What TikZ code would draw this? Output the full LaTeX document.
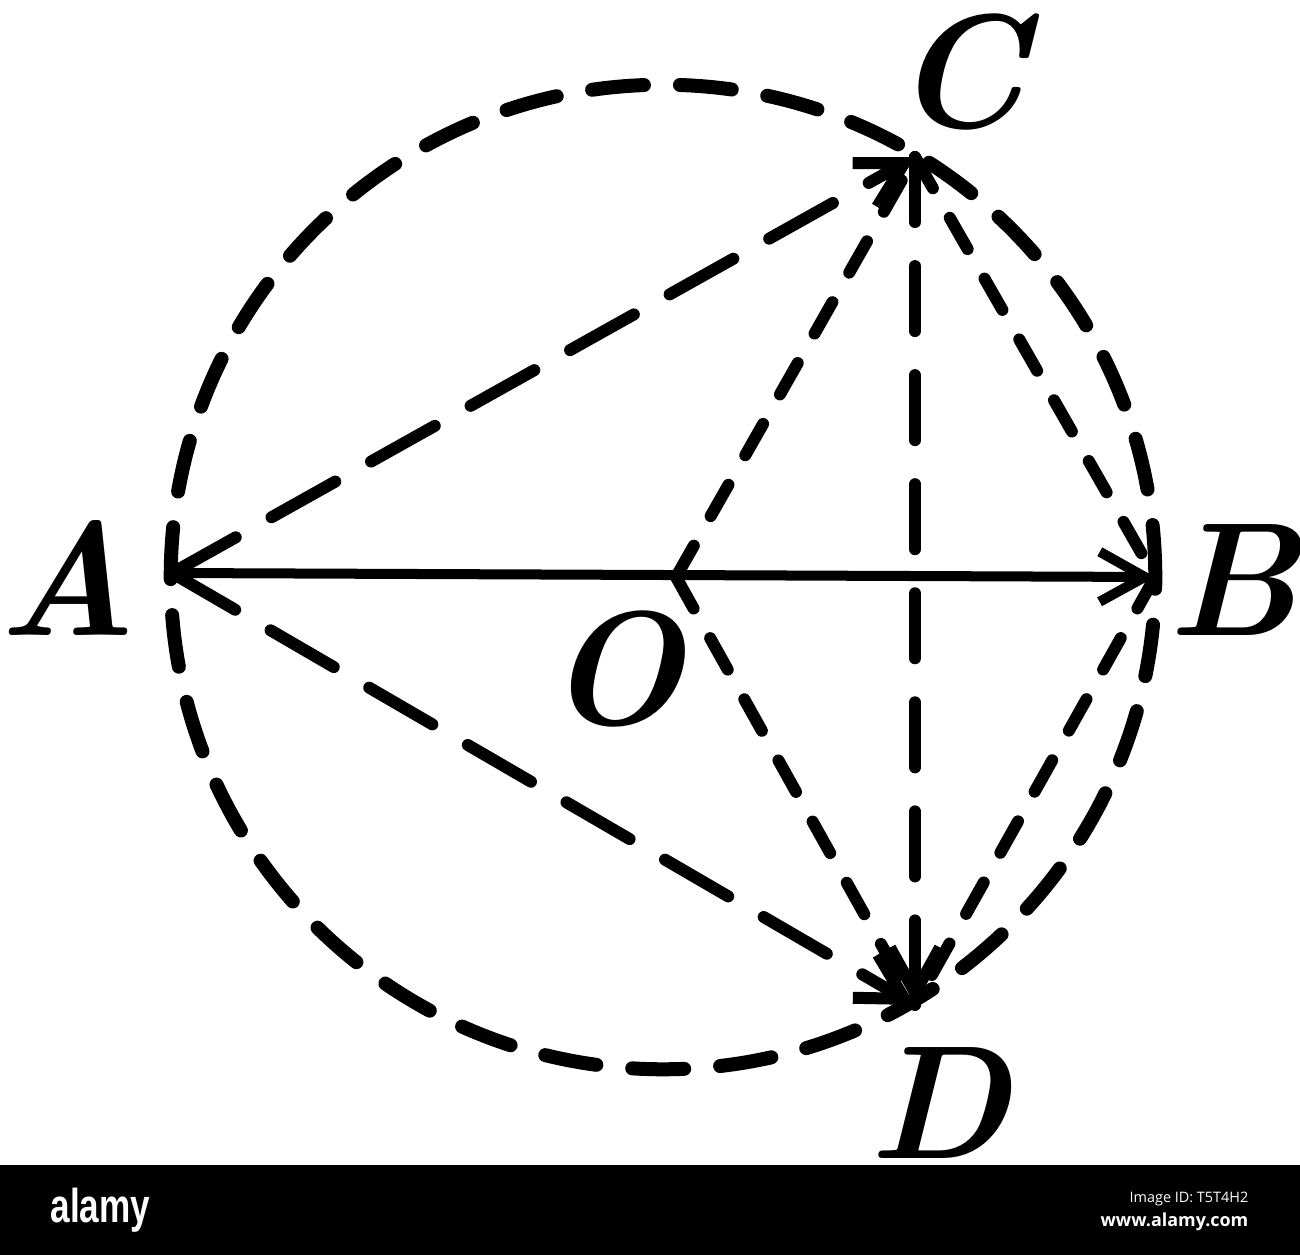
\documentclass[tikz,border=0pt]{standalone}
\usepackage{fontspec}
\newfontfamily\logofont{Liberation Sans}
\newfontfamily\idfont{Open Sans}
\usetikzlibrary{arrows.meta}

\begin{document}
\begin{tikzpicture}[x=0.01cm, y=-0.01cm,
        every node/.style={inner sep=0pt},
        letter/.style={font=\fontsize{46}{46}\selectfont\bfseries\itshape},
        ring/.style={line width=0.14cm, line cap=round, dash pattern=on 0.52cm off 0.36cm},
        longdash/.style={line width=0.12cm, line cap=round, dash pattern=on 0.73cm off 0.41cm},
        middash/.style={line width=0.12cm, line cap=round, dash pattern=on 0.65cm off 0.44cm},
        shortdash/.style={line width=0.12cm, line cap=round, dash pattern=on 0.36cm off 0.34cm},
        arr/.style={-{Straight Barb[length=0.45cm,width=0.5cm]}}]
    \useasboundingbox (0,0) rectangle (1300,1255);

    % points of the figure
    \coordinate (A) at (172,573);
    \coordinate (B) at (1155,577);
    \coordinate (C) at (915,157);
    \coordinate (D) at (915,1005);
    \coordinate (O) at (676,577);
    \coordinate (M) at (663,577);

    \draw[ring] (M) circle[radius=4.92cm];

    \draw[line width=0.1cm, line cap=round, arr] (A) -- (B);
    \draw[longdash, arr] (A) -- (C);
    \draw[longdash, arr] (A) -- (D);
    \draw[shortdash] (O) -- (C);
    \draw[shortdash] (O) -- (D);
    \draw[middash, arr] (C) -- (D);
    \draw[shortdash] (C) -- (B);
    \draw[shortdash] (B) -- (D);

    % labels
    \node[letter] (lA) at (68,578) {A};
    \node[letter] (lB) at (1234,580) {B};
    \node[letter] (lC) at (959,72) {C};
    \node[letter] (lD) at (939,1103) {D};
    \node[letter] (lO) at (615,669) {O};

    % bottom bar
    \fill (0,1165) rectangle (1300,1255);
    \node[white, font=\logofont\bfseries\fontsize{13.5}{13.5}\selectfont, xscale=0.74, anchor=base west] (logo) at (50,1222) {alamy};
    \node[white, font=\idfont\fontsize{4.1}{4.1}\selectfont, anchor=base east] (imgid) at (1249,1202) {Image ID: T5T4H2};
    \node[white, font=\idfont\bfseries\fontsize{5.1}{5.1}\selectfont, anchor=base east] (site) at (1249,1226) {www.alamy.com};
\end{tikzpicture}
\end{document}
